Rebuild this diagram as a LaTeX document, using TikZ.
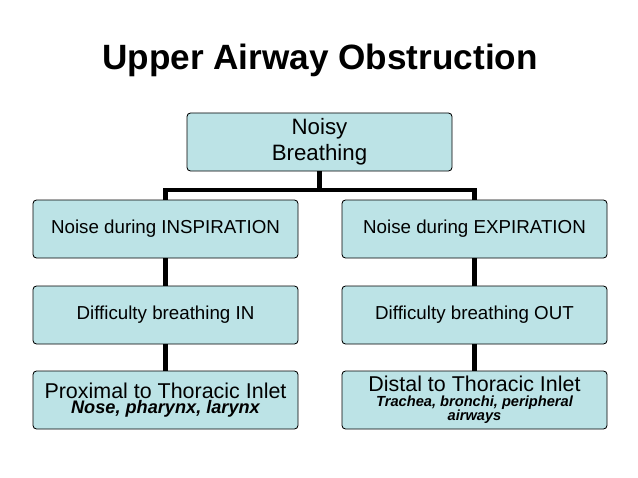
\documentclass[tikz,border=0pt]{standalone}
\usepackage{fontspec}
\setmainfont{Liberation Sans}
\begin{document}
\begin{tikzpicture}[x=0.03cm,y=-0.03cm,
  box/.style={draw=black,fill=boxfill,rounded corners=3pt,line width=0.7pt,minimum width=265*0.03cm,minimum height=58*0.03cm,align=center,inner sep=1pt},
  conn/.style={line width=3.6pt}]
\definecolor{boxfill}{HTML}{BCE3E6}
\useasboundingbox (0,0) rectangle (638,478);
\node[font=\bfseries\fontsize{30}{33}\selectfont] (title) at (320,60) {Upper Airway Obstruction};
\node[box,font=\fontsize{19}{22}\selectfont] (top) at (319.5,142) {Noisy\\Breathing};
\node[box,font=\fontsize{16}{19}\selectfont] (a1) at (165.5,229) {Noise during INSPIRATION};
\node[box,font=\fontsize{16}{19}\selectfont] (b1) at (474.5,229) {Noise during EXPIRATION};
\node[box,font=\fontsize{16}{19}\selectfont] (a2) at (165.5,315) {Difficulty breathing IN};
\node[box,font=\fontsize{16}{19}\selectfont] (b2) at (474.5,315) {Difficulty breathing OUT};
\node[box] (a3) at (165.5,400) {\fontsize{18.3}{21}\selectfont Proximal to Thoracic Inlet\\[1pt]\bfseries\itshape\fontsize{15.5}{18}\selectfont Nose, pharynx, larynx};
\node[box] (b3) at (474.5,400) {\fontsize{18.3}{21}\selectfont Distal to Thoracic Inlet\\[1pt]\bfseries\itshape\fontsize{12.5}{15}\selectfont Trachea, bronchi, peripheral\\\bfseries\itshape\fontsize{12.5}{15}\selectfont airways};
\coordinate (m) at (319.5,190);
\draw[conn] (top.south) -- (m);
\draw[conn] (a1.north) |- (m) -| (b1.north);
\draw[conn] (a1) -- (a2);
\draw[conn] (a2) -- (a3);
\draw[conn] (b1) -- (b2);
\draw[conn] (b2) -- (b3);
\end{tikzpicture}
\end{document}
